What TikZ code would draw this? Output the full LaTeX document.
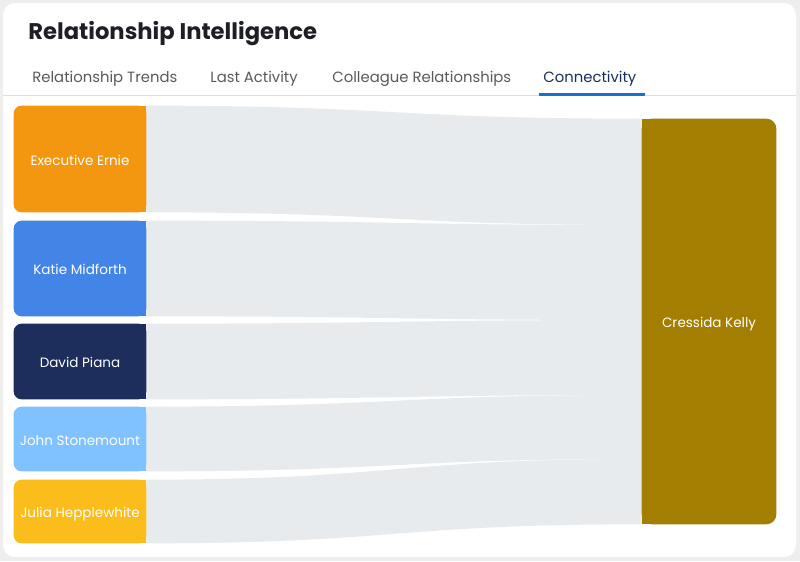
\documentclass[tikz,border=0pt]{standalone}
\usepackage{fontspec}
\setmainfont{Poppins}
\usetikzlibrary{backgrounds}
\definecolor{pageC}{HTML}{EFEEED}
\definecolor{flowC}{HTML}{E7EBEE}
\definecolor{ernieC}{HTML}{F39610}
\definecolor{katieC}{HTML}{4285E6}
\definecolor{davidC}{HTML}{1E2E5C}
\definecolor{johnC}{HTML}{80C1FF}
\definecolor{juliaC}{HTML}{FBBD1B}
\definecolor{cressC}{HTML}{A37E00}
\definecolor{tabC}{HTML}{5A5A5A}
\definecolor{activeC}{HTML}{17305E}
\definecolor{underC}{HTML}{1A6FD3}
\definecolor{titleC}{HTML}{1E1E24}
\definecolor{sepC}{HTML}{DEDEDE}
\begin{document}
\begin{tikzpicture}
  [x=0.02cm,y=-0.02cm,every node/.style={inner sep=0pt},
   tab/.style={text=tabC,font=\fontsize{8.45}{10}\selectfont,anchor=base west},
   person/.style={text=white,font=\fontsize{7.7}{9}\selectfont,
     text height=0.7em,text depth=0pt,minimum width=2.64cm}]
\useasboundingbox (0,0) rectangle (800,561);
\node (title)[anchor=base west,text=titleC,font=\fontsize{12.9}{16}\selectfont\bfseries] at (28,39) {Relationship Intelligence};
\node (t1)[tab] at (32,82) {Relationship Trends};
\node (t2)[tab] at (210,82) {Last Activity};
\node (t3)[tab] at (332,82) {Colleague Relationships};
\node (t4)[tab,text=activeC] at (543,82) {Connectivity};
\draw[sepC] (3,95) -- (796,95);
\draw[underC,line width=0.06cm] (539,94.5) -- (645,94.5);
% people on the left
\node (ernie)[person,minimum height=2.12cm] at (80,159) {Executive Ernie};
\node (katie)[person,minimum height=1.9cm] at (80,268.5) {Katie Midforth};
\node (david)[person,minimum height=1.5cm] at (80,361.5) {David Piana};
\node (john)[person,minimum height=1.28cm] at (80,439) {John Stonemount};
\node (julia)[person,minimum height=1.26cm] at (80,511.5) {Julia Hepplewhite};
\node (cressida)[person,minimum width=2.68cm,minimum height=8.1cm] at (709,321.5) {Cressida Kelly};
\coordinate (r0) at (cressida.north west);
\coordinate (r1) at (642,225);
\coordinate (r2) at (642,320);
\coordinate (r3) at (642,395);
\coordinate (r4) at (642,459);
\coordinate (r5) at (cressida.south west);
\coordinate (mid) at (394,0);
\begin{pgfonlayer}{background}
  \fill[pageC] (0,0) rectangle (800,561);
  \fill[white,rounded corners=0.24cm] (3,3) rectangle (796,557);
  \foreach \from/\a/\b in {ernie/r0/r1,katie/r1/r2,david/r2/r3,john/r3/r4,julia/r4/r5}
    \fill[flowC] (\from.north east) .. controls (mid |- \from.north east) and (mid |- \a) .. (\a)
      -- (\b) .. controls (mid |- \b) and (mid |- \from.south east) .. (\from.south east) -- cycle;
  \foreach \n/\c in {ernie/ernieC,katie/katieC,david/davidC,john/johnC,julia/juliaC}
  {
    \fill[\c,rounded corners=0.16cm] (\n.south west) rectangle (\n.north east);
    \fill[\c] (\n.south) rectangle (\n.north east);
  }
  \fill[cressC,rounded corners=0.2cm] (cressida.south west) rectangle (cressida.north east);
  \fill[cressC] (cressida.south west) rectangle (cressida.north);
\end{pgfonlayer}
\end{tikzpicture}
\end{document}
